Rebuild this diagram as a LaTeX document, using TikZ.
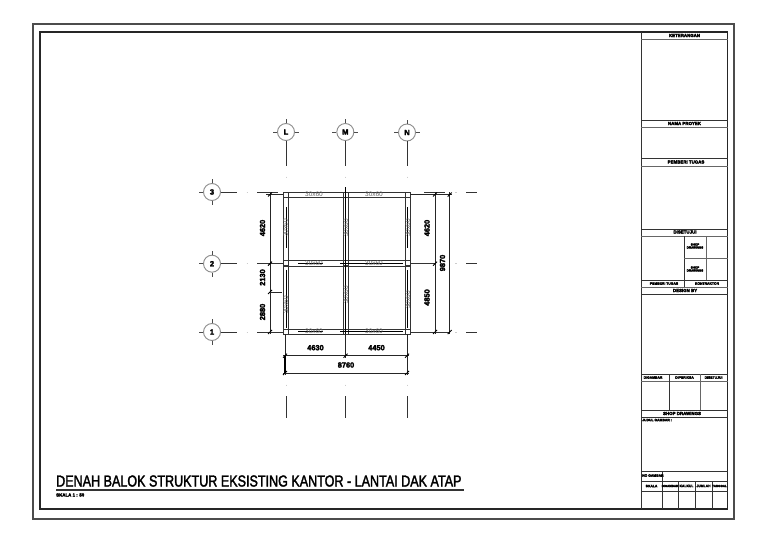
\documentclass[tikz,border=0pt]{standalone}
\usepackage{fontspec}
\setmainfont{Liberation Sans}
\newfontfamily\heavyfont[FakeBold=5]{Liberation Sans Bold}
\newfontfamily\dimfont[FakeBold=3.5]{Liberation Sans Bold}
\newfontfamily\titlefont[FakeBold=2.2]{Liberation Sans}
\newcommand{\sz}[1]{\fontsize{#1}{#1}\selectfont}
\tikzset{
 frame/.style={draw=black!85,line width=1.3pt},
 panel/.style={draw=black!80,line width=0.9pt},
 panelg/.style={draw=black!60,line width=0.9pt},
 beam/.style={draw=black!80,line width=0.8pt},
 core/.style={draw=black,line width=0.9pt},
 axis/.style={draw=black!80,line width=0.8pt},
 dimn/.style={draw=black!85,line width=0.7pt},
 bubble/.style={circle,draw=black!45,line width=0.9pt,minimum size=17pt,inner sep=0pt,font=\dimfont\sz{7.5}},
 tick/.style={draw=black!70,line width=0.7pt},
 dotg/.style={draw=black!20,line width=0.7pt},
 lab/.style={inner sep=0pt,font=\heavyfont\sz{4.4}},
 dimt/.style={inner sep=0pt,font=\dimfont\sz{7.4}},
 blab/.style={inner sep=0pt,text=black!60,font=\sz{6.5}},
}
\newcommand{\dtick}[2]{\draw[black,line width=1pt] (#1-2,#2+2)--(#1+2,#2-2);}
\begin{document}
\begin{tikzpicture}[x=1pt,y=-1pt]
\useasboundingbox (0,0) rectangle (768,543);
\fill[white] (0,0) rectangle (768,543);
% frames
\draw[frame,draw=black!70] (33,24) rectangle (734,519);
\draw[frame] (40,32) rectangle (727.5,509);
\draw[panel] (641,32) -- (641,509);
% title block horizontals
\foreach \y in {120,158,229,280,294,374,410,417,471,481,491}{\draw[panel] (641,\y)--(727.5,\y);}
\foreach \y in {39.5,127,166,236,287,381}{\draw[panelg] (641,\y)--(727.5,\y);}
\draw[panel] (684,236)--(684,287);
\draw[panelg] (706,236)--(706,280);
\draw[panelg] (684,258)--(727.5,258);
\draw[panel] (669,374)--(669,410);
\draw[panelg] (700,374)--(700,410);
\draw[panel] (662,471)--(662,509);
\draw[panel] (678,481)--(678,509);
\draw[panel] (695,481)--(695,509);
\draw[panel] (712,481)--(712,509);
% block texts
\node[lab] (t1) at (684.5,35.5) {KETERANGAN};
\node[lab] (t2) at (684.5,123.5) {NAMA PROYEK};
\node[lab] (t3) at (686,162) {PEMBERI TUGAS};
\node[lab] (t4) at (685,232) {DISETUJUI};
\node[lab,font=\heavyfont\sz{3},align=center] (t5) at (695,246) {SHOP\\DRAWINGS};
\node[lab,font=\heavyfont\sz{3},align=center] (t6) at (695,269) {SHOP\\DRAWINGS};
\node[lab,font=\heavyfont\sz{3.4}] (t7) at (664,283.5) {PEMBERI TUGAS};
\node[lab,font=\heavyfont\sz{3.4}] (t8) at (707,283.5) {KONTRAKTOR};
\node[lab] (t9) at (685,290.5) {DESIGN BY};
\node[lab,font=\heavyfont\sz{3.4}] (t10) at (653,377.5) {DIGAMBAR};
\node[lab,font=\heavyfont\sz{3.4}] (t11) at (684.5,377.5) {DIPERIKSA};
\node[lab,font=\heavyfont\sz{3.4}] (t12) at (713.5,377.5) {DISETUJUI};
\node[lab] (t13) at (682,413.5) {SHOP DRAWINGS};
\node[lab,font=\heavyfont\sz{3.4},anchor=west] (t14) at (642,420) {JUDUL GAMBAR :};
\node[lab,font=\heavyfont\sz{3.4},anchor=west] (t15) at (642,475.5) {NO GAMBAR};
\node[lab,font=\heavyfont\sz{3.4}] (t16) at (651.5,486) {SKALA};
\node[lab,font=\heavyfont\sz{3}] (t17) at (670,486) {DIGAMBAR};
\node[lab,font=\heavyfont\sz{3.4}] (t18) at (686.5,486) {KALKUL};
\node[lab,font=\heavyfont\sz{3.4}] (t19) at (703.5,486) {JUMLAH};
\node[lab,font=\heavyfont\sz{3}] (t20) at (719.5,486) {TANGGAL};
% title
\node[inner sep=0pt,anchor=base west,font=\titlefont\sz{15.9}] (title) at (56,486.5) {\scalebox{0.79}[1]{DENAH BALOK STRUKTUR EKSISTING KANTOR - LANTAI DAK ATAP}};
\draw[black!80,line width=1.1pt] (56,490)--(464,490);
\node[inner sep=0pt,anchor=west,font=\heavyfont\sz{4.4}] (scale) at (56,495) {SKALA 1 : 50};
% beams
\foreach \y in {192,197,260.7,266,329.5,334.5}{\draw[beam] (283,\y)--(410,\y);}
\foreach \x in {283,288,343,348,405,410}{\draw[beam] (\x,192)--(\x,334.5);}
\foreach \x/\y in {283/192,343/192,405/192,283/260.7,343/260.7,405/260.7,283/329.5,343/329.5,405/329.5}{\draw[beam] (\x,\y) rectangle ++(5,5);}
% cores
\draw[core] (286,207)--(286,248) (286,270)--(286,328) (407,207)--(407,248) (407,270)--(407,328);
\draw[core] (345.5,187)--(345.5,338);
\draw[core] (298,263.7)--(323,263.7) (340,263.7)--(403,263.7) (298,331.8)--(323,331.8) (340,331.8)--(403,331.8);
% beam labels
\foreach \x in {314,374}{\foreach \y in {194.5,263.5,331.5}{\node[blab] at (\x,\y) {30x60};}}
\foreach \x/\y in {285.5/228,346/228,408/228,286/305,346/295,408/300}{\node[blab,rotate=90] at (\x,\y) {30x60};}
% bubbles and axes
\node[bubble] (L) at (286,132) {L};
\node[bubble] (M) at (345.3,132) {M};
\node[bubble] (N) at (407,132.5) {N};
\node[bubble] (g3) at (212,192) {3};
\node[bubble] (g2) at (212,263.7) {2};
\node[bubble] (g1) at (212,332) {1};
\foreach \n in {L,M,N,g3,g2,g1}{
 \draw[tick] (\n.north)--++(0,-4) (\n.west)--++(-4,0) (\n.east)--++(4,0) (\n.south)--++(0,4);}
\coordinate (La) at (286,166); \coordinate (Ma) at (345.3,166); \coordinate (Na) at (407,166);
\coordinate (a3) at (236.7,192); \coordinate (a2) at (236.7,263.7); \coordinate (a1) at (236.7,332);
\draw[axis] (L.south)--(La); \draw[axis] (M.south)--(Ma); \draw[axis] (N.south)--(Na);
\draw[axis] (g3.east)--(a3); \draw[axis] (g2.east)--(a2); \draw[axis] (g1.east)--(a1);
% centre-line dots
\foreach \x in {286,345.3,407}{\draw[dotg] (\x,176.5)--(\x,178); \draw[dotg] (\x,384.5)--(\x,386);
 \draw[axis] (\x,396)--(\x,417.5);}
\foreach \y in {192,263.7,332}{\draw[dotg] (246.5,\y)--(248,\y); \draw[dotg] (455,\y)--(456.5,\y); \draw[axis] (466,\y)--(477,\y);}
\draw[axis] (257,192)--(278,192) (257,263.7)--(283,263.7) (257,332)--(283,332);
\draw[axis] (424,192)--(445,192) (410,263.7)--(435,263.7) (410,332)--(450,332);
% left dimension
\draw[dimn] (270,192)--(270,334) (270,292)--(282,292) (266,194.5)--(283,194.5);
\foreach \y in {194.5,263.7,292,332}{\dtick{270}{\y}}
\node[dimt,rotate=90] (d1) at (262.5,228) {4620};
\node[dimt,rotate=90] (d2) at (262.5,277.5) {2130};
\node[dimt,rotate=90] (d3) at (262.5,312) {2880};
% right dimensions
\draw[dimn] (410,194.5)--(452,194.5) (435,192)--(435,334) (449.7,192)--(449.7,334);
\foreach \y in {194.5,263.7,332}{\dtick{435}{\y}}
\foreach \y in {194.5,332}{\dtick{449.7}{\y}}
\node[dimt,rotate=90] (d4) at (427,228) {4620};
\node[dimt,rotate=90] (d5) at (427,297.5) {4850};
\node[dimt,rotate=90] (d6) at (442.5,263) {9870};
% bottom dimensions
\draw[dimn] (285,334)--(285,375) (345.5,334)--(345.5,358) (407,334)--(407,375);
\draw[dimn] (283,355.7)--(409,355.7) (283,373)--(409,373);
\draw[black,line width=1.2pt] (285,355.7)--(285,373);
\foreach \x in {285,345.5,407}{\dtick{\x}{355.7}}
\foreach \x in {285,407}{\dtick{\x}{373}}
\node[dimt] (d7) at (315.5,347.7) {4630};
\node[dimt] (d8) at (376.5,347.7) {4450};
\node[dimt] (d9) at (346,365) {8760};
\end{tikzpicture}
\end{document}
